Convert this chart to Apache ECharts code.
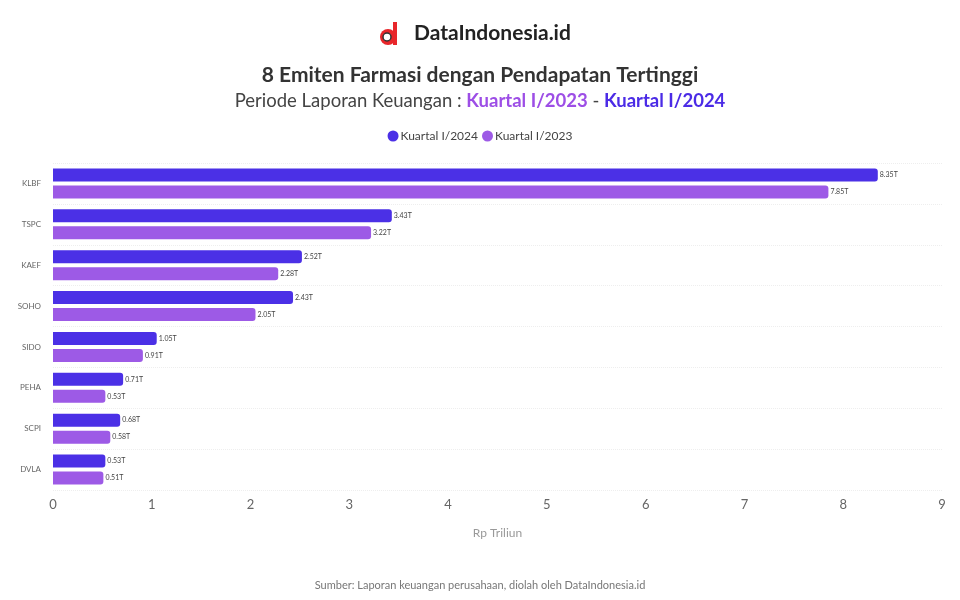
<!DOCTYPE html>
<html>
<head>
<meta charset="utf-8">
<script src="https://cdn.jsdelivr.net/npm/echarts@6/dist/echarts.min.js"></script>
<style>
  html,body{margin:0;padding:0;background:#fff;}
  #chart{width:960px;height:600px;}
</style>
</head>
<body>
<div id="chart"></div>
<script>
// data (Rp triliun)
var categories = ['KLBF', 'TSPC', 'KAEF', 'SOHO', 'SIDO', 'PEHA', 'SCPI', 'DVLA'];
var q2024 = [8.35, 3.43, 2.52, 2.43, 1.05, 0.71, 0.68, 0.53];
var q2023 = [7.85, 3.22, 2.28, 2.05, 0.91, 0.53, 0.58, 0.51];
var xTicks = [0, 1, 2, 3, 4, 5, 6, 7, 8, 9];

var c24 = '#4b30e6', c23 = '#9d5ae6';
var font = 'Lato, "Noto Sans", sans-serif';

var chart = echarts.init(document.getElementById('chart'));
chart.setOption({
  animation: false,
  textStyle: {fontFamily: font},
  title: [{
    text: '8 Emiten Farmasi dengan Pendapatan Tertinggi',
    left: 'center', top: 60,
    textStyle: {fontSize: 21, fontWeight: 'bold', color: '#333'}
  }, {
    text: 'Periode Laporan Keuangan : {a|Kuartal I/2023} - {b|Kuartal I/2024}',
    left: 'center', top: 87,
    textStyle: {
      fontSize: 18.5, fontWeight: 'normal', color: '#444',
      rich: {
        a: {fontSize: 18.5, fontWeight: 'bold', color: '#9d4ee6'},
        b: {fontSize: 18.5, fontWeight: 'bold', color: '#4b2be6'}
      }
    }
  }, {
    text: 'Sumber: Laporan keuangan perusahaan, diolah oleh DataIndonesia.id',
    left: 'center', top: 575,
    textStyle: {fontSize: 11, fontWeight: 'normal', color: '#777'}
  }],
  graphic: [{
    type: 'circle', shape: {cx: 388, cy: 37, r: 8}, style: {fill: '#e8262b'}
  }, {
    type: 'rect', shape: {x: 393, y: 22, width: 4, height: 23}, style: {fill: '#e8262b'}
  }, {
    type: 'circle', shape: {cx: 387, cy: 37, r: 4}, style: {fill: '#fff', stroke: '#333', lineWidth: 1.5}
  }, {
    type: 'text', left: 414, top: 23,
    style: {text: 'DataIndonesia.id', fontSize: 21, fontWeight: 'bold', fill: '#222', fontFamily: font}
  }],
  legend: {
    top: 125, left: 'center', itemGap: 4, itemWidth: 11, itemHeight: 11,
    icon: 'circle',
    textStyle: {fontSize: 12, color: '#444', padding: [0, 0, 0, -3]},
    data: ['Kuartal I/2024', 'Kuartal I/2023']
  },
  grid: {left: 53, right: 18, top: 163, bottom: 110, containLabel: false},
  xAxis: {
    type: 'value', min: 0, max: 9, interval: 1,
    name: 'Rp Triliun', nameLocation: 'middle', nameGap: 37,
    nameTextStyle: {fontSize: 12, color: '#999'},
    axisLabel: {fontSize: 13, color: '#666', formatter: function (v) { return xTicks.indexOf(v) >= 0 ? v : ''; }},
    splitLine: {show: false},
    axisLine: {show: false}, axisTick: {show: false}
  },
  yAxis: {
    type: 'category', inverse: true, data: categories,
    axisLabel: {fontSize: 8, color: '#666', margin: 12},
    axisLine: {show: false}, axisTick: {show: false},
    splitLine: {show: true, lineStyle: {color: '#eee', type: 'dotted'}}
  },
  series: [{
    name: 'Kuartal I/2024', type: 'bar', data: q2024,
    barWidth: 13, barGap: '30%',
    itemStyle: {color: c24, borderRadius: [0, 3, 3, 0]},
    label: {show: true, position: 'right', distance: 2, fontSize: 7, color: '#444',
      formatter: function (p) { return p.value.toFixed(2) + 'T'; }}
  }, {
    name: 'Kuartal I/2023', type: 'bar', data: q2023,
    barWidth: 13,
    itemStyle: {color: c23, borderRadius: [0, 3, 3, 0]},
    label: {show: true, position: 'right', distance: 2, fontSize: 7, color: '#444',
      formatter: function (p) { return p.value.toFixed(2) + 'T'; }}
  }]
});
</script>
</body>
</html>
